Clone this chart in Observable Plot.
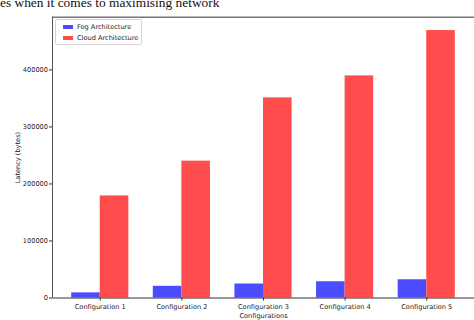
<!DOCTYPE html>
<html><head><meta charset="utf-8">
<script src="https://cdn.jsdelivr.net/npm/d3@7"></script>
<script src="https://cdn.jsdelivr.net/npm/@observablehq/plot@0.6"></script>
<style>
body{margin:0;background:#fff;}
#wrap{position:relative;width:474px;height:320px;overflow:hidden;background:#fff;}
#wrap svg{position:absolute;left:0;top:0;}
.note{position:absolute;left:0;top:-4.2px;font-family:"Liberation Serif",serif;font-size:13.4px;line-height:13.4px;white-space:nowrap;color:#111;}
.legend{position:absolute;left:55px;top:19px;width:85px;height:24px;border:1px solid #d6d6d6;border-radius:2px;background:#fff;font-family:"DejaVu Sans",sans-serif;font-size:6.6px;color:#222;}
.row{position:absolute;left:7px;height:8px;display:flex;align-items:center;white-space:nowrap;}
.sw{width:10px;height:4px;margin-right:4px;}
</style>
</head><body>
<div id="wrap"></div>
<script>
const categories = ["Configuration 1","Configuration 2","Configuration 3","Configuration 4","Configuration 5"];
const fog = [9000, 20500, 24500, 28500, 32000];
const cloud = [179000, 240000, 351000, 389500, 469000];
const seriesNames = ["Fog Architecture","Cloud Architecture"];
const colors = ["#4c4cff","#ff4c4c"];
const yTicks = [0,100000,200000,300000,400000];
const noteText = "es when it comes to maximising network";
const xLabel = "Configurations";
const yLabel = "Latency (bytes)";

const barW = 0.35;
const idx = categories.map((c,i)=>i);
const xMin = -barW - 0.05*(categories.length-1+2*barW);
const xMax = categories.length-1 + barW + 0.05*(categories.length-1+2*barW);
const yMax = d3.max(cloud.concat(fog))*1.05;

const fogRows = categories.map((c,i)=>({i, value:fog[i]}));
const cloudRows = categories.map((c,i)=>({i, value:cloud[i]}));

const chart = Plot.plot({
  width:474, height:320,
  marginLeft:52, marginRight:0, marginTop:16.7, marginBottom:22.5,
  style:{fontFamily:"DejaVu Sans", fontSize:"6.6px", color:"#222", background:"#fff"},
  x:{type:"linear", domain:[xMin,xMax]},
  y:{domain:[0,yMax]},
  marks:[
    Plot.rectY(fogRows,{x1:d=>d.i-barW, x2:d=>d.i, y:"value", fill:colors[0]}),
    Plot.rectY(cloudRows,{x1:d=>d.i, x2:d=>d.i+barW, y:"value", fill:colors[1]}),
    Plot.ruleY([yMax],{stroke:"#777", strokeWidth:1.4}),
    Plot.ruleX([xMin],{stroke:"#555", strokeWidth:1}),
    Plot.ruleY([0],{stroke:"#333", strokeWidth:1}),
    Plot.axisX({ticks:idx, tickFormat:i=>categories[i], tickSize:3, tickPadding:3, stroke:"#333", fill:"#222",
      label:xLabel, labelAnchor:"center", labelOffset:20, labelArrow:"none"}),
    Plot.axisY({ticks:yTicks, tickFormat:d=>String(d), tickSize:3, tickPadding:1.5, stroke:"#333", fill:"#222",
      label:yLabel, labelAnchor:"center", labelOffset:37.5, labelArrow:"none"})
  ]
});
const wrap = document.getElementById("wrap");
wrap.appendChild(chart);

const note = document.createElement("div");
note.className = "note";
note.textContent = noteText;
wrap.appendChild(note);

const lg = document.createElement("div");
lg.className = "legend";
seriesNames.forEach((n,k)=>{
  const r = document.createElement("div");
  r.className = "row";
  r.style.top = (2.7 + k*11.3) + "px";
  const s = document.createElement("div");
  s.className = "sw"; s.style.background = colors[k];
  const t = document.createElement("span"); t.textContent = n;
  r.appendChild(s); r.appendChild(t);
  lg.appendChild(r);
});
wrap.appendChild(lg);
</script>
</body></html>
